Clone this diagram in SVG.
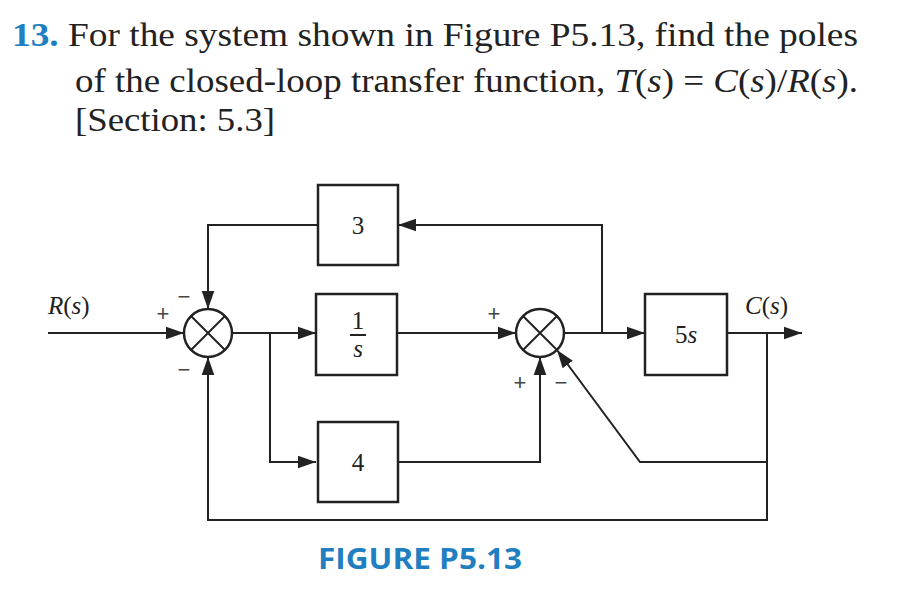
<svg xmlns="http://www.w3.org/2000/svg" width="907" height="604" viewBox="0 0 907 604">
<style>
.t{font-family:"Liberation Serif",serif;font-size:34px;fill:#222}
.b{fill:#fff;stroke:#222;stroke-width:2.5}
.w{stroke:#222;stroke-width:2;fill:none}
.l{font-family:"Liberation Serif",serif;font-size:25px;fill:#222}
.s{font-family:"Liberation Sans",sans-serif;font-size:22px;fill:#444}
</style>
<defs><marker id="a" viewBox="0 0 10 10" refX="10" refY="5" markerWidth="18" markerHeight="18" markerUnits="userSpaceOnUse" orient="auto"><path d="M0,1.5 L10,5 L0,8.5Z" fill="#222"/></marker></defs>
<text x="12" y="46" class="t" textLength="846" lengthAdjust="spacingAndGlyphs"><tspan fill="#1f7fc1" font-weight="bold">13.</tspan> For the system shown in Figure P5.13, find the poles</text>
<text x="75" y="92" class="t" textLength="783" lengthAdjust="spacingAndGlyphs">of the closed-loop transfer function, <tspan font-style="italic">T</tspan>(<tspan font-style="italic">s</tspan>) = <tspan font-style="italic">C</tspan>(<tspan font-style="italic">s</tspan>)/<tspan font-style="italic">R</tspan>(<tspan font-style="italic">s</tspan>).</text>
<text x="75" y="131" class="t" textLength="200" lengthAdjust="spacingAndGlyphs">[Section: 5.3]</text>
<g id="connectors" class="w">
<path d="M48,333 H184" marker-end="url(#a)"/>
<path d="M232,333 H316" marker-end="url(#a)"/>
<path d="M270,333 V462 H316" marker-end="url(#a)"/>
<path d="M397,333 H516" marker-end="url(#a)"/>
<path d="M397,462 H540 V357" marker-end="url(#a)"/>
<path d="M564,333 H645" marker-end="url(#a)"/>
<path d="M602,333 V225 H398" marker-end="url(#a)"/>
<path d="M318,225 H208 V309" marker-end="url(#a)"/>
<path d="M727,333 H802" marker-end="url(#a)"/>
<path d="M767,333 V520 H208 V357" marker-end="url(#a)"/>
<path d="M767,462 H640 L557,350" marker-end="url(#a)"/>
</g>
<g id="sum1"><circle cx="208" cy="333" r="24" class="b" stroke-width="2"/><path d="M191,316 L225,350 M225,316 L191,350" class="w"/></g>
<g id="sum2"><circle cx="540" cy="333" r="24" class="b" stroke-width="2"/><path d="M523,316 L557,350 M557,316 L523,350" class="w"/></g>
<g id="box3"><rect x="318" y="185" width="80" height="80" class="b"/><text x="358" y="234" class="l" text-anchor="middle">3</text></g>
<g id="boxInt"><rect x="316" y="294" width="81" height="81" class="b"/><text x="358" y="329" class="l" text-anchor="middle">1</text><path d="M350,335 H366" class="w" stroke-width="1.5"/><text x="358" y="357" class="l" text-anchor="middle" font-style="italic">s</text></g>
<g id="box4"><rect x="318" y="422" width="80" height="80" class="b"/><text x="358" y="471" class="l" text-anchor="middle">4</text></g>
<g id="box5s"><rect x="645" y="294" width="82" height="81" class="b"/><text x="686" y="343" class="l" text-anchor="middle">5<tspan font-style="italic">s</tspan></text></g>
<g id="labels">
<text x="48" y="314" class="l"><tspan font-style="italic">R</tspan>(<tspan font-style="italic">s</tspan>)</text>
<text x="745" y="314" class="l"><tspan font-style="italic">C</tspan>(<tspan font-style="italic">s</tspan>)</text>
<text x="163" y="321" class="s" text-anchor="middle">+</text>
<text x="184" y="304" class="s" text-anchor="middle">−</text>
<text x="184" y="377" class="s" text-anchor="middle">−</text>
<text x="494" y="321" class="s" text-anchor="middle">+</text>
<text x="520" y="390" class="s" text-anchor="middle">+</text>
<text x="561" y="390" class="s" text-anchor="middle">−</text>
</g>
<text x="318" y="569" font-family="'Open Sans','Liberation Sans',sans-serif" font-size="28" font-weight="bold" fill="#1f7fc1" textLength="204" lengthAdjust="spacingAndGlyphs">FIGURE P5.13</text>
</svg>
